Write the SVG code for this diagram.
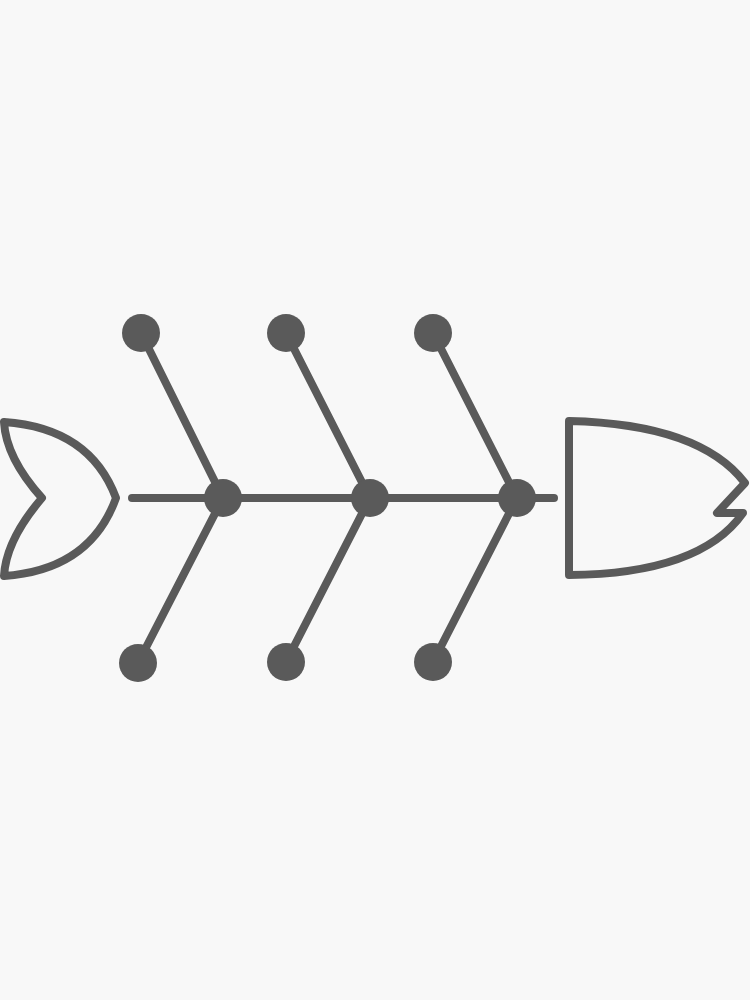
<svg xmlns="http://www.w3.org/2000/svg" width="750" height="1000" viewBox="0 0 750 1000">
<style>
.ln{stroke:#5a5a5a;stroke-width:8;stroke-linecap:round;fill:none}
.ol{stroke:#5a5a5a;stroke-width:8;stroke-linejoin:round;fill:none}
.dot{fill:#5a5a5a}
</style>
<rect width="750" height="1000" fill="#f8f8f8"/>
<g id="tail"><path class="ol" d="M4,422 Q90,428 116,498 Q90,570 4,576 Q6,540 42,498 Q6,458 4,422 Z"/></g>
<g id="head"><path class="ol" d="M569,421 Q700,424 745,483 L717,513 L743,513 Q700,574 569,575 Z"/></g>
<g id="connectors">
<line class="ln" x1="132" y1="498" x2="554" y2="498"/>
<line class="ln" x1="141" y1="333" x2="223" y2="498"/>
<line class="ln" x1="138" y1="663" x2="223" y2="498"/>
<line class="ln" x1="286" y1="333" x2="370" y2="498"/>
<line class="ln" x1="286" y1="662" x2="370" y2="498"/>
<line class="ln" x1="433" y1="333" x2="517" y2="498"/>
<line class="ln" x1="433" y1="662" x2="517" y2="498"/>
</g>
<g id="j1"><circle class="dot" cx="223" cy="498" r="19"/></g>
<g id="j2"><circle class="dot" cx="370" cy="498" r="19"/></g>
<g id="j3"><circle class="dot" cx="517" cy="498" r="19"/></g>
<g id="t1"><circle class="dot" cx="141" cy="333" r="19"/></g>
<g id="t2"><circle class="dot" cx="286" cy="333" r="19"/></g>
<g id="t3"><circle class="dot" cx="433" cy="333" r="19"/></g>
<g id="b1"><circle class="dot" cx="138" cy="663" r="19"/></g>
<g id="b2"><circle class="dot" cx="286" cy="662" r="19"/></g>
<g id="b3"><circle class="dot" cx="433" cy="662" r="19"/></g>
</svg>
